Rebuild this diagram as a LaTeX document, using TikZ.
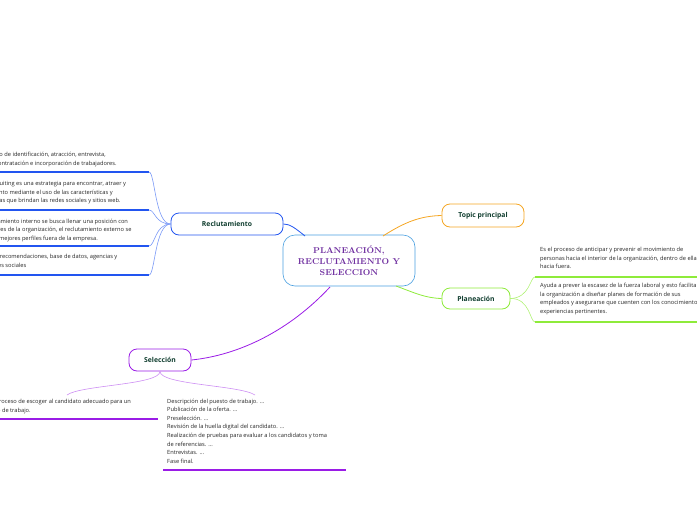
\documentclass[tikz,border=0pt]{standalone}
\usepackage{fontspec}
\setsansfont{Open Sans}
\definecolor{cblue}{HTML}{2255F0}
\definecolor{cpurp}{HTML}{9A1CE6}
\definecolor{cgreen}{HTML}{8EEB3A}
\definecolor{corange}{HTML}{F5A623}
\definecolor{ccent}{HTML}{4A9FE0}
\definecolor{ctext}{HTML}{7030A0}
\definecolor{cdark}{HTML}{0F3D2E}
\begin{document}
\begin{tikzpicture}[x=1pt,y=-1pt,
  topic/.style={draw,rounded corners=8pt,line width=0.8pt,fill=white,font=\sffamily\bfseries\fontsize{6.8}{8}\selectfont,text=cdark,inner sep=0pt},
  leaf/.style={anchor=north west,align=left,inner sep=0pt,font=\sffamily\fontsize{5.7}{8.6}\selectfont,text=black!85},
  link/.style={line width=0.8pt}]
\useasboundingbox (0,0) rectangle (697,520);
\node[draw=ccent,rounded corners=12pt,line width=0.6pt,minimum width=132pt,minimum height=51pt,align=center,font=\rmfamily\bfseries\fontsize{8.5}{11}\selectfont,text=ctext] (c) at (349,260.5) {PLANEACIÓN,\\RECLUTAMIENTO Y\\SELECCION};
\node[topic,draw=corange,minimum width=82pt,minimum height=23pt] (tp) at (483,215.5) {Topic principal};
\node[topic,draw=cgreen,minimum width=68pt,minimum height=21pt] (pl) at (476,298.5) {Planeación};
\node[topic,draw=cblue,minimum width=112pt,minimum height=22pt] (re) at (227,224) {Reclutamiento};
\node[topic,draw=cpurp,minimum width=62pt,minimum height=22pt] (se) at (160,360) {Selección};
\draw[link,corange] (383,236) .. controls (405,222) and (420,216) .. (tp.west);
\draw[link,cgreen] (396,286) .. controls (415,293) and (425,298) .. (pl.west);
\draw[link,cblue] (305,236) .. controls (295,228) and (290,224) .. (re.east);
\draw[link,cpurp] (330,287) .. controls (290,330) and (240,355) .. (se.east);
% Reclutamiento leaves
\coordinate (r0) at (re.west);
\foreach \y in {172,210,246,275}{
  \draw[link,cblue,line width=1.2pt] (0,\y) -- (149,\y);
  \draw[cblue!60,line width=0.6pt] (r0) .. controls (155,224) and (155,\y) .. (149,\y);
}
\node[leaf] (r1) at (-32,152) {Es el proceso de identificación, atracción, entrevista,\\selección, contratación e incorporación de trabajadores.};
\node[leaf] (r2) at (-17,181) {El recruiting es una estrategia para encontrar, atraer y\\el talento mediante el uso de las características y\\ventajas que brindan las redes sociales y sitios web.};
\node[leaf] (r3) at (-32,218.5) {En el reclutamiento interno se busca llenar una posición con\\colaboradores de la organización, el reclutamiento externo se\\busca a los mejores perfiles fuera de la empresa.};
\node[leaf] (r4) at (-11,254) {Por recomendaciones, base de datos, agencias y\\redes sociales};
% Planeacion leaves
\coordinate (p0) at (pl.east);
\foreach \y in {277,322}{
  \draw[link,cgreen,line width=1.2pt] (535,\y) -- (697,\y);
  \draw[cgreen!70,line width=0.6pt] (p0) .. controls (530,298) and (530,\y) .. (535,\y);
}
\node[leaf] (p1) at (540,247) {Es el proceso de anticipar y prevenir el movimiento de\\personas hacia el interior de la organización, dentro de ella y\\hacia fuera.};
\node[leaf] (p2) at (540,283) {Ayuda a prever la escasez de la fuerza laboral y esto facilita a\\la organización a diseñar planes de formación de sus\\empleados y asegurarse que cuenten con los conocimientos y\\experiencias pertinentes.};
% Seleccion leaves
\draw[cpurp!50,line width=0.6pt] (se.south) .. controls (160,385) and (80,385) .. (67,395);
\draw[cpurp!50,line width=0.6pt] (se.south) .. controls (160,385) and (240,385) .. (255,395);
\draw[link,cpurp,line width=1.2pt] (0,419) -- (158,419);
\draw[link,cpurp,line width=1.2pt] (163,470) -- (346,470);
\node[leaf] (s1) at (-18,399) {Es el proceso de escoger al candidato adecuado para un\\puesto de trabajo.};
\node[leaf] (s2) at (167,398.5) {Descripción del puesto de trabajo. ...\\Publicación de la oferta. ...\\Preselección. ...\\Revisión de la huella digital del candidato. ...\\Realización de pruebas para evaluar a los candidatos y toma\\de referencias. ...\\Entrevistas. ...\\Fase final.};
\end{tikzpicture}
\end{document}
